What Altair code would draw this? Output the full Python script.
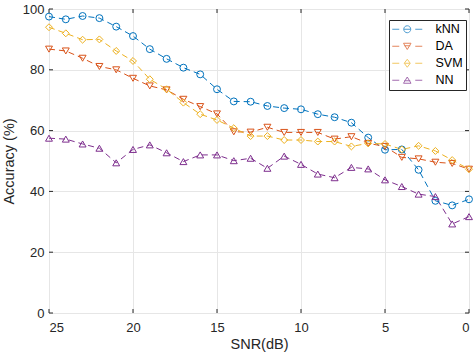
import altair as alt
import pandas as pd

snr = list(range(25, -1, -1))
knn = [97.5, 96.6, 97.7, 97.0, 94.2, 91.1, 86.8, 83.6, 80.7, 78.5, 73.6, 69.6, 69.5,
       68.1, 67.4, 67.0, 65.4, 64.4, 62.6, 57.7, 53.7, 53.8, 47.1, 36.9, 35.4, 37.4]
da = [86.8, 86.2, 83.8, 81.1, 80.0, 77.2, 74.7, 73.4, 70.3, 67.9, 65.5, 59.6, 59.5,
      61.1, 59.4, 59.4, 59.4, 57.2, 58.0, 55.8, 54.8, 51.2, 50.7, 49.6, 49.2, 47.3]
svm = [94.0, 92.0, 89.9, 90.0, 86.2, 82.9, 76.9, 73.6, 69.2, 65.4, 63.5, 60.8, 58.2,
       58.2, 56.9, 56.9, 56.4, 56.4, 54.8, 55.8, 55.6, 53.8, 55.0, 53.3, 50.3, 47.3]
nn = [57.5, 57.2, 55.6, 54.2, 49.4, 53.8, 55.3, 52.7, 49.8, 52.0, 52.0, 50.1, 50.9,
      47.6, 51.6, 48.9, 45.7, 44.5, 47.9, 47.4, 43.8, 41.6, 39.1, 38.3, 29.3, 31.7]

names = ["kNN", "DA", "SVM", "NN"]
colors = ["#0072BD", "#D95319", "#EDB120", "#7E2F8E"]
shapes = ["circle", "triangle-down", "diamond", "triangle-up"]
stub = "M-3 0 L-1.6 0 M1.6 0 L3 0 "
legend_shapes = [
    stub + "M-0.7 0 L0.7 0 M-0.7 0 A0.7 0.7 0 1 0 0.7 0 A0.7 0.7 0 1 0 -0.7 0",
    stub + "M-0.6 -0.1 L0.6 -0.1 M-0.75 -0.6 L0.75 -0.6 L0 0.65 Z",
    stub + "M-0.55 0 L0.55 0 M0 -0.8 L0.6 0 L0 0.8 L-0.6 0 Z",
    stub + "M-0.6 0.1 L0.6 0.1 M-0.75 0.6 L0.75 0.6 L0 -0.65 Z",
]
x_ticks = [25, 20, 15, 10, 5, 0]
y_ticks = [0, 20, 40, 60, 80, 100]

rows = []
for name, vals in zip(names, [knn, da, svm, nn]):
    for s, v in zip(snr, vals):
        rows.append({"SNR": s, "Accuracy": v, "Method": name})
df = pd.DataFrame(rows)

FONT = "Liberation Sans"
W, H = 420, 304
TXT = "#262626"

axis_common = dict(format="d", grid=True, ticks=False, domain=False,
                   labelFont=FONT, labelFontSize=13, labelColor=TXT,
                   titleFont=FONT, titleFontSize=14.5, titleColor=TXT, titleFontWeight=400,
                   gridColor="#e6e6e6", gridWidth=1)
xenc = alt.X("SNR:Q", title="SNR(dB)",
             scale=alt.Scale(domain=[0, 25], reverse=True, nice=False, zero=False),
             axis=alt.Axis(values=x_ticks, labelPadding=8, titlePadding=3, **axis_common))
yenc = alt.Y("Accuracy:Q", title="Accuracy (%)",
             scale=alt.Scale(domain=[0, 100], nice=False),
             axis=alt.Axis(values=y_ticks, labelPadding=5, titlePadding=6, **axis_common))
cscale = alt.Scale(domain=names, range=colors)

base = alt.Chart(df)
lines = base.mark_line(strokeDash=[6, 4], strokeWidth=1).encode(
    x=xenc, y=yenc,
    color=alt.Color("Method:N", scale=cscale, legend=None),
)
points = base.mark_point(filled=False, size=48, strokeWidth=1, opacity=1).encode(
    x=xenc, y=yenc,
    color=alt.Color("Method:N", scale=cscale, legend=None),
    shape=alt.Shape("Method:N", scale=alt.Scale(domain=names, range=shapes), legend=None),
)

leg = dict(title=None, orient="none", legendX=340, legendY=11, symbolSize=100,
           symbolStrokeWidth=1, symbolOffset=9, labelOffset=22, padding=3, rowPadding=4,
           labelFontSize=12.5, labelFont=FONT, labelColor="#000000", labelAlign="left",
           strokeColor="#262626", fillColor="#ffffff")
legend_layer = alt.Chart(pd.DataFrame({"Method": names})).transform_filter("false").mark_point(
    filled=False).encode(
    color=alt.Color("Method:N", scale=cscale, legend=alt.Legend(**leg)),
    shape=alt.Shape("Method:N", scale=alt.Scale(domain=names, range=legend_shapes),
                    legend=alt.Legend(**leg)),
)

xt = alt.Chart(pd.DataFrame({"SNR": x_ticks}))
yt = alt.Chart(pd.DataFrame({"Accuracy": y_ticks}))
xtb = xt.mark_rule(color=TXT, strokeWidth=1).encode(x=xenc, y=alt.value(H), y2=alt.value(H - 4))
xtt = xt.mark_rule(color=TXT, strokeWidth=1).encode(x=xenc, y=alt.value(0), y2=alt.value(4))
ytl = yt.mark_rule(color=TXT, strokeWidth=1).encode(y=yenc, x=alt.value(0), x2=alt.value(4))
ytr = yt.mark_rule(color=TXT, strokeWidth=1).encode(y=yenc, x=alt.value(W), x2=alt.value(W - 4))

chart = alt.layer(xtb, xtt, ytl, ytr, lines, points, legend_layer).resolve_scale(
    shape="independent", color="independent"
).properties(
    width=W, height=H,
    autosize=alt.AutoSizeParams(type="none"),
    padding={"left": 49, "top": 9, "right": 5, "bottom": 42},
).configure_view(
    stroke=TXT, strokeWidth=1
).configure(background="#ffffff")

chart.save("out.html", embed_options={"renderer": "svg", "actions": False})
